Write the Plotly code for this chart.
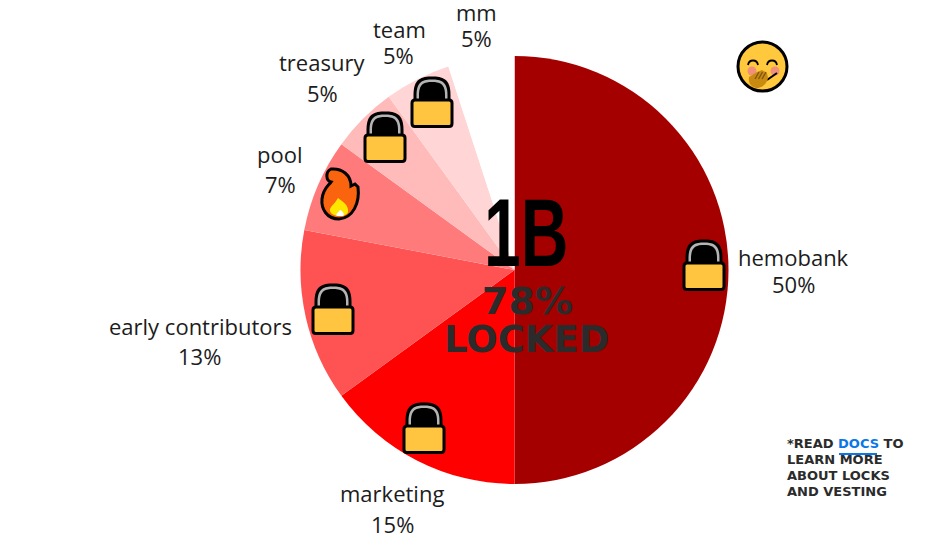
import plotly.graph_objects as go

labels = ["hemobank", "marketing", "early contributors", "pool", "treasury", "team", "mm"]
values = [50, 15, 13, 7, 5, 5, 5]
colors = ["#a50000", "#ff0000", "#ff5252", "#ff7b7b", "#ffbaba", "#ffd5d5", "#ffffff"]
name_pos = [(793, 257), (392, 493), (200, 326), (279, 154), (322, 62), (399, 29), (476, 12)]
pct_pos = [(793, 284), (392, 524), (199, 356), (280, 184), (322, 93), (398, 55), (476, 38)]
lock_pos = [(704, 265), (424, 428), (333, 309), (385, 137), (432, 102)]
note_lines = ["*READ <span style='color:#0a78e6'>DOCS</span> TO", "LEARN MORE", "ABOUT LOCKS", "AND VESTING"]
note_y = [443, 459, 475, 491]

W, H = 939, 555
CX, CY, R = 514.5, 270, 214

fig = go.Figure(go.Pie(
    labels=labels, values=values, sort=False, direction="clockwise", rotation=0,
    marker=dict(colors=colors, line=dict(width=0)), textinfo="none", hoverinfo="label+percent",
    domain=dict(x=[(CX - R) / W, (CX + R) / W], y=[1 - (CY + R) / H, 1 - (CY - R) / H]),
    showlegend=False,
))

shapes, annos = [], []


def path(d, fill, line="#000000", width=0):
    shapes.append(dict(type="path", xref="x", yref="y", path=d, fillcolor=fill, layer="above",
                       line=dict(color=line, width=width)))


def lock(cx, cy):
    def arch(hw, top, bottom):
        return (f"M{cx-hw},{cy+bottom} L{cx-hw},{cy+top+hw} "
                f"C{cx-hw},{cy+top+hw*0.1} {cx-hw*0.55},{cy+top} {cx},{cy+top} "
                f"C{cx+hw*0.55},{cy+top} {cx+hw},{cy+top+hw*0.1} {cx+hw},{cy+top+hw} "
                f"L{cx+hw},{cy+bottom} Z")
    path(arch(18.5, -25.5, 2), "#000000")
    path(arch(15.5, -22.5, 2), "#b4b4b4")
    path(arch(13, -20, 2), "#000000")
    x0, x1, y0, y1 = cx - 20, cx + 20, cy - 2, cy + 24.5
    path(f"M{x0+3},{y0} L{x1-3},{y0} Q{x1},{y0} {x1},{y0+3} L{x1},{y1-3} Q{x1},{y1} {x1-3},{y1} "
         f"L{x0+3},{y1} Q{x0},{y1} {x0},{y1-3} L{x0},{y0+3} Q{x0},{y0} {x0+3},{y0} Z",
         "#ffc540", "#000000", 3)


for p in lock_pos:
    lock(*p)

# flame
fx, fy = 340, 195
path(f"M{fx-9},{fy-26} C{fx+2},{fy-27} {fx+11},{fy-20} {fx+11},{fy-9} L{fx+15},{fy-11} "
     f"L{fx+18},{fy-8} C{fx+20},{fy+8} {fx+13},{fy+23} {fx-1},{fy+24} "
     f"C{fx-13},{fy+24} {fx-19},{fy+14} {fx-18},{fy+4} C{fx-17},{fy-6} {fx-12},{fy-9} {fx-9},{fy-13} "
     f"C{fx-14},{fy-14} {fx-15},{fy-23} {fx-9},{fy-26} Z", "#fa640e", "#000000", 3)
path(f"M{fx-2},{fy+3} C{fx+2},{fy+6} {fx+9},{fy+10} {fx+8},{fy+17} C{fx+7},{fy+22} {fx-8},{fy+23} "
     f"{fx-10},{fy+16} C{fx-11},{fy+12} {fx-5},{fy+9} {fx-2},{fy+3} Z", "#ffe600")
path(f"M{fx},{fy+15} C{fx+3},{fy+16} {fx+5},{fy+20} {fx+3},{fy+21} L{fx-3},{fy+21} "
     f"C{fx-5},{fy+19} {fx-2},{fy+18} {fx},{fy+15} Z", "#ffffff")

# smiling face covering mouth
sx, sy, sr = 762.5, 66.5, 24.5
shapes.append(dict(type="circle", xref="x", yref="y", x0=sx-sr, x1=sx+sr, y0=sy-sr, y1=sy+sr,
                   fillcolor="#ffc83d", layer="above", line=dict(color="#000000", width=3)))
for ex, cx_ in ((753, 752), (772, 775)):
    shapes.append(dict(type="circle", xref="x", yref="y", x0=cx_-4.5, x1=cx_+4.5, y0=66.5, y1=75.5,
                       fillcolor="#f0907a", layer="above", line=dict(width=0)))
    path(f"M{ex-5},{65} C{ex-4},{59} {ex+4},{59} {ex+5},{65}", "rgba(0,0,0,0)", "#000000", 1.8)
path("M767,80 L777,73", "rgba(0,0,0,0)", "#000000", 2)
path("M749,77 L757,72 L762,70 L767,73 L768,78 C767,84 762,88 756,88 C751,87 748,83 749,77 Z", "#c98a12")
for i in range(3):
    path(f"M{755+i*3.5},{79} L{759+i*3.5},{72}", "rgba(0,0,0,0)", "#7a5410", 1.3)

# blue line through the note
shapes.append(dict(type="line", xref="x", yref="y", x0=839, x1=877, y0=454, y1=454, layer="above",
                   line=dict(color="#0a78e6", width=2)))

for name, val, (nx, ny), (px, py) in zip(labels, values, name_pos, pct_pos):
    for txt, x, y in ((name, nx, ny), (f"{val}%", px, py)):
        annos.append(dict(x=x, y=y, xref="x", yref="y", text=txt, showarrow=False,
                          font=dict(family="Open Sans", size=22, color="#1c1c1c")))

annos.append(dict(x=526, y=233, xref="x", yref="y", text="1B", showarrow=False,
                  font=dict(family="Liberation Sans", size=66, color="#000000", weight=700)))
annos.append(dict(x=527, y=301, xref="x", yref="y", text="78%", showarrow=False,
                  font=dict(family="DejaVu Sans", size=38, color="#2b2b2b", weight=700)))
annos.append(dict(x=527, y=339, xref="x", yref="y", text="LOCKED", showarrow=False,
                  font=dict(family="DejaVu Sans", size=37, color="#2b2b2b", weight=700)))
for line, y in zip(note_lines, note_y):
    annos.append(dict(x=785, y=y, xref="x", yref="y", xanchor="left", text=line, showarrow=False,
                      font=dict(family="DejaVu Sans", size=13, color="#2b2b2b", weight=700)))

fig.update_layout(
    width=W, height=H, margin=dict(l=0, r=0, t=0, b=0), paper_bgcolor="white", plot_bgcolor="white",
    xaxis=dict(range=[0, W], visible=False, fixedrange=True),
    yaxis=dict(range=[H, 0], visible=False, fixedrange=True),
    shapes=shapes, annotations=annos,
)
post = """
document.body.style.margin='0';document.body.style.overflow='hidden';
document.querySelectorAll('.annotation-text').forEach(function(t){
  if(t.textContent==='1B'){
    var b=t.getBBox(), c=b.y+b.height/2;
    t.setAttribute('transform','translate(0,'+c+') scale(1,1.45) translate(0,'+(-c)+')');
  }
});
"""
fig.write_html("out.html", config=dict(displayModeBar=False), post_script=post)
